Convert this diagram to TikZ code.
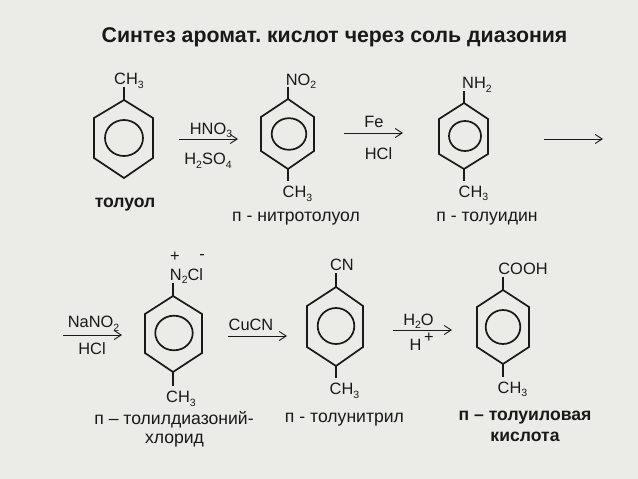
\documentclass[tikz,border=0pt]{standalone}
\usepackage{fontspec}
\setmainfont{Liberation Sans}
\usetikzlibrary{arrows.meta}
\definecolor{bgcol}{RGB}{235,235,232}
\definecolor{inkcol}{RGB}{25,25,25}
\newcommand{\lowidx}[1]{\raisebox{-3.5pt}[0pt][0pt]{\fontsize{10.5}{11}\selectfont #1}}
\tikzset{
  lbl/.style={inner sep=0pt,text=inkcol,font=\fontsize{17.6}{20}\selectfont\frenchspacing,align=center},
  fml/.style={inner sep=0pt,outer sep=2pt,text=inkcol,font=\fontsize{16.4}{18}\selectfont},
  boldlbl/.style={lbl,font=\fontsize{17.6}{21}\bfseries\selectfont\frenchspacing},
  ttl/.style={inner sep=0pt,text=inkcol,font=\fontsize{21.3}{24}\bfseries\selectfont\frenchspacing},
  bond/.style={line width=1.7pt,draw=inkcol,line join=miter},
  rct/.style={line width=0.9pt,draw=inkcol,-{Straight Barb[length=7pt,width=9pt]}}
}
% hexagon: name, middle x, left x, right x, then the four y levels
\newcommand{\hexring}[8]{
\coordinate (#1a) at (#2,#5);
\coordinate (#1d) at (#2,#8);
\draw[bond] (#1a)--(#4,#6)--(#4,#7)--(#1d)--(#3,#7)--(#3,#6)--cycle;
}
\begin{document}
\begin{tikzpicture}[x=1pt,y=-1pt]
\fill[bgcol] (0,0) rectangle (638,479);
\useasboundingbox (0,0) rectangle (638,479);
\node[ttl] (title) at (334.5,37) {Синтез аромат. кислот через соль диазония};
% upper row
\hexring{r1}{124}{94}{153}{100}{118}{158}{178}
\draw[bond] (124,138) ellipse [x radius=19,y radius=18];
\hexring{r2}{288}{261}{314}{99}{117}{151}{169}
\draw[bond] (289,134) ellipse [x radius=17.3,y radius=15.8];
\hexring{r3}{464}{439}{488}{103}{119}{154}{169}
\draw[bond] (465,136) ellipse [x radius=16,y radius=15];
\node[fml] (ch1) at (129,79) {CH\lowidx{3}};
\node[fml] (no2) at (301,79.5) {NO\lowidx{2}};
\node[fml] (ch2) at (297.5,192) {CH\lowidx{3}};
\node[fml] (nh2) at (477,83) {NH\lowidx{2}};
\node[fml] (ch3) at (473.5,191.5) {CH\lowidx{3}};
\draw[bond] (r1a)--(r1a|-ch1.south);
\draw[bond] (r2a)--(r2a|-no2.south);
\draw[bond,shorten >=3pt] (r2d)--(r2d|-ch2.north);
\draw[bond] (r3a)--(r3a|-nh2.south);
\draw[bond,shorten >=3pt] (r3d)--(r3d|-ch3.north);
\node[boldlbl] (tol) at (125,205) {толуол};
\node[lbl] (ntol) at (296,219) {п - нитротолуол};
\node[lbl] (tolu) at (487,219) {п - толуидин};
\coordinate (a1s) at (179,139); \coordinate (a1e) at (238,139);
\coordinate (a2s) at (344,133); \coordinate (a2e) at (403,133);
\coordinate (a3s) at (544,139); \coordinate (a3e) at (603,139);
\draw[rct] (a1s)--(a1e);
\draw[rct] (a2s)--(a2e);
\draw[rct] (a3s)--(a3e);
\node[fml] (hno) at (211,128.5) {HNO\lowidx{3}};
\node[fml] (hso) at (208,159) {H\lowidx{2}SO\lowidx{4}};
\node[fml] (fe) at (374,122) {Fe};
\node[fml] (hcl1) at (378.5,153.5) {HCl};
% lower row
\hexring{r4}{173}{145}{202}{296}{314}{353}{372}
\draw[bond] (174,333) ellipse [x radius=18.7,y radius=17.3];
\hexring{r5}{336}{307}{363}{287}{306}{347}{366}
\draw[bond] (336,326) ellipse [x radius=18.3,y radius=18];
\hexring{r6}{503}{477}{529}{290}{307}{347}{364}
\draw[bond] (503,327) ellipse [x radius=17.3,y radius=17];
\node[fml] (ncl) at (186.5,274.5) {N\lowidx{2}Cl};
\node[fml] (pls) at (175,257) {+};
\node[fml] (mns) at (202,257) {-};
\node[fml] (ch4) at (181,397) {CH\lowidx{3}};
\node[fml] (cn) at (342,265) {CN};
\node[fml] (ch5) at (344.5,389) {CH\lowidx{3}};
\node[fml] (cooh) at (523,269) {COOH};
\node[fml] (ch6) at (512.5,387.5) {CH\lowidx{3}};
\draw[bond] (r4a)--(r4a|-ncl.south);
\draw[bond,shorten >=3pt] (r4d)--(r4d|-ch4.north);
\draw[bond] (r5a)--(r5a|-cn.south);
\draw[bond,shorten >=3pt] (r5d)--(r5d|-ch5.north);
\draw[bond] (r6a)--(r6a|-cooh.south);
\draw[bond,shorten >=3pt] (r6d)--(r6d|-ch6.north);
\node[lbl] (tdz) at (174,419.5) {п – толилдиазоний-};
\node[lbl] (hlr) at (174.5,440.5) {хлорид};
\node[lbl] (tnt) at (344.5,420) {п - толунитрил};
\node[boldlbl] (tak) at (525,418) {п – толуиловая};
\node[boldlbl] (kis) at (525,437) {кислота};
\coordinate (a4s) at (63,335); \coordinate (a4e) at (122,335);
\coordinate (a5s) at (228,336); \coordinate (a5e) at (287,336);
\coordinate (a6s) at (393,330); \coordinate (a6e) at (452,330);
\draw[rct] (a4s)--(a4e);
\draw[rct] (a5s)--(a5e);
\draw[rct] (a6s)--(a6e);
\node[fml] (nan) at (93.5,322) {NaNO\lowidx{2}};
\node[fml] (hcl2) at (92,349) {HCl};
\node[fml] (cucn) at (251,325) {CuCN};
\node[fml] (hoh) at (418.5,319.5) {H\lowidx{2}O};
\node[fml] (hpl) at (415.5,344.5) {H};
\node[fml] (pl2) at (429,338) {+};
\end{tikzpicture}
\end{document}
